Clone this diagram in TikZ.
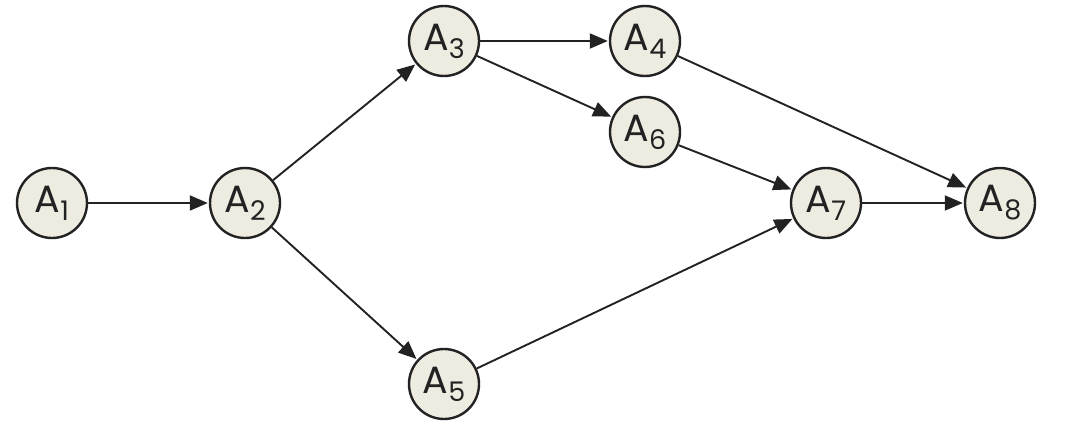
\documentclass[tikz,border=0pt]{standalone}
\usepackage{fontspec}
\setmainfont{Poppins}
\usetikzlibrary{arrows.meta}
\definecolor{nodefill}{HTML}{EEEBE1}
\definecolor{ink}{HTML}{222222}
\tikzset{
  act/.style={circle, draw=ink, line width=2.4pt, fill=nodefill, minimum size=70pt, inner sep=0pt, text=ink, font=\fontsize{38}{40}\selectfont},
  arr/.style={draw=ink, line width=1.9pt, -{Triangle[length=18pt,width=15pt]}, shorten >=1pt}
}
\newcommand{\lab}[1]{A\raisebox{-8pt}{\fontsize{27}{28}\selectfont #1}}
\begin{document}
\begin{tikzpicture}[x=1pt,y=-1pt]
\useasboundingbox (0,0) rectangle (1066,431);
\node[act] (a1) at (52,203) {\lab{1}};
\node[act] (a2) at (245,203) {\lab{2}};
\node[act] (a3) at (444,41) {\lab{3}};
\node[act] (a4) at (645,41) {\lab{4}};
\node[act] (a6) at (645,132) {\lab{6}};
\node[act] (a7) at (826,203) {\lab{7}};
\node[act] (a8) at (1000,203) {\lab{8}};
\node[act] (a5) at (444,384) {\lab{5}};
\draw[arr] (a1) -- (a2);
\draw[arr] (a2) -- (a3);
\draw[arr] (a2) -- (a5);
\draw[arr] (a3) -- (a4);
\draw[arr] (a3) -- (a6);
\draw[arr] (a4) -- (a8);
\draw[arr] (a6) -- (a7);
\draw[arr] (a5) -- (a7);
\draw[arr] (a7) -- (a8);
\end{tikzpicture}
\end{document}
